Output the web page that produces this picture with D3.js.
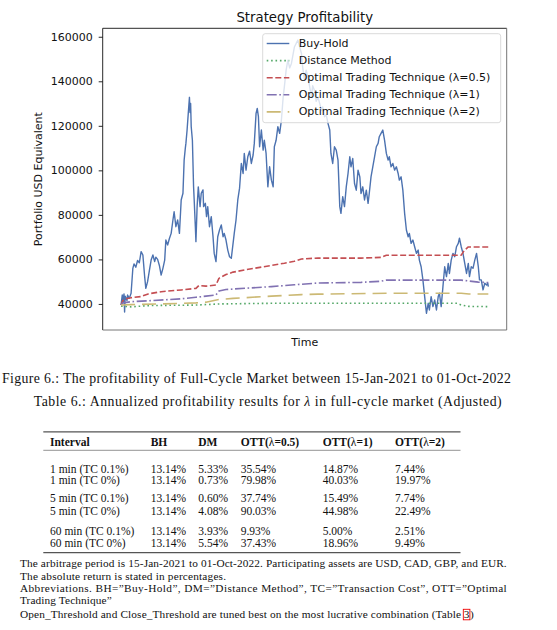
<!DOCTYPE html>
<html><head><meta charset="utf-8">
<script src="https://cdn.jsdelivr.net/npm/d3@7"></script>
<style>body{margin:0;background:#fff}svg{display:block}</style>
</head><body>
<svg id="c" width="557" height="630"></svg>
<script>
// ---- data (day index since 15-Jan-2021, portfolio USD value) ----
const buyHold = [[0,39500],[2,44000],[3,41000],[5,44500],[6,36400],[7,43500],[10,41500],[11,44000],[14,42500],[17,44800],[20,56000],[22,58000],[25,56500],[28,59500],[31,58500],[34,63500],[37,62000],[40,52300],[42,47000],[45,50000],[48,55000],[51,59700],[54,62000],[57,59000],[59,61000],[62,60000],[65,57300],[68,53000],[71,56000],[74,59700],[76,68700],[79,66500],[82,69400],[85,71700],[88,77700],[90,81400],[93,74700],[96,77700],[99,71700],[102,86700],[105,89700],[107,104600],[109,110000],[110,112100],[112,118100],[114,125600],[116,132800],[117,126000],[118,130000],[119,119600],[121,113500],[123,92600],[124,87000],[126,74700],[127,68000],[129,83700],[131,92600],[134,83700],[136,89700],[139,91200],[140,83700],[143,85200],[145,79200],[147,83700],[150,74700],[153,79200],[156,70200],[158,62700],[161,59000],[164,70200],[167,73200],[170,75500],[173,70200],[175,71700],[178,68700],[181,64200],[184,61200],[187,60500],[192,71700],[195,77700],[198,86700],[201,92000],[204,103100],[207,98600],[209,107600],[212,100100],[215,106100],[218,108600],[221,103100],[224,106900],[226,112100],[229,125600],[231,127800],[233,124100],[235,110600],[238,118100],[241,109100],[243,113500],[246,107600],[249,92600],[252,101600],[255,95600],[258,92600],[260,110600],[263,113500],[266,119600],[269,116600],[272,122600],[275,133000],[277,137500],[280,145000],[283,149500],[286,146000],[289,148000],[291,151000],[294,155400],[297,157000],[300,158500],[303,155400],[306,152500],[308,146500],[311,140500],[314,145000],[317,142000],[320,137500],[323,133000],[325,138000],[328,136000],[331,131000],[334,133000],[337,130000],[340,127000],[342,128500],[345,124100],[348,125000],[351,121100],[354,118100],[356,107600],[359,103100],[362,110600],[365,109100],[368,104600],[371,83700],[373,80700],[376,88200],[379,83700],[382,92600],[385,98600],[388,106100],[390,101600],[393,105300],[396,94100],[399,91100],[402,100100],[405,97100],[407,89600],[410,92600],[413,86700],[416,91100],[419,85200],[421,89600],[424,97100],[427,101600],[430,106100],[433,110600],[436,112100],[438,115100],[441,116600],[444,118100],[447,113500],[450,107600],[453,104600],[455,106100],[458,101600],[461,103100],[464,100100],[467,101600],[470,98600],[472,95600],[475,97100],[478,91100],[481,80700],[484,73200],[487,70200],[489,71700],[492,67200],[495,68700],[498,65700],[501,62700],[504,64200],[506,59700],[509,56700],[512,50800],[515,43300],[518,35800],[521,40300],[523,37300],[526,43300],[529,38800],[532,41800],[535,37300],[538,43300],[540,44800],[543,38800],[546,47800],[549,56700],[552,52300],[555,58200],[557,53700],[560,59700],[563,62700],[566,61200],[569,65700],[572,67200],[574,69500],[577,65700],[580,62700],[583,58200],[586,53700],[589,58200],[591,52300],[594,56700],[597,56000],[600,59700],[603,62700],[606,56700],[608,50800],[611,50800],[614,46300],[617,49300],[620,48500],[622,49300],[623,47800]];
const distanceMethod = [[0,39000],[17,38700],[50,39300],[127,39500],[166,40000],[255,40300],[570,40300],[577,39500],[590,38900],[623,38800]];
const ott05 = [[0,39500],[3,41500],[8,42300],[17,42800],[34,43300],[46,44500],[68,45500],[102,46300],[127,47000],[132,48300],[144,48000],[161,48500],[166,51500],[178,53200],[190,54300],[221,55800],[255,57300],[277,58300],[294,59200],[306,60200],[334,60600],[407,60600],[441,60900],[450,61900],[577,61900],[582,64000],[589,65600],[623,65600]];
const ott1 = [[0,39500],[3,40500],[17,41000],[50,41500],[102,42300],[127,43000],[144,43500],[161,44000],[166,45800],[178,46500],[221,47200],[255,47800],[294,48600],[334,49400],[407,49700],[441,50200],[450,50700],[577,50700],[590,50300],[606,49800],[623,49600]];
const ott2 = [[0,39500],[17,39700],[68,40000],[127,40500],[144,40800],[166,42000],[190,42500],[255,43500],[306,44200],[334,44400],[450,44800],[577,44800],[590,44500],[623,44500]];
const seriesNames = ["Buy-Hold","Distance Method","Optimal Trading Technique (λ=0.5)","Optimal Trading Technique (λ=1)","Optimal Trading Technique (λ=2)"];
const yTicks = [40000,60000,80000,100000,120000,140000,160000];

// ---- table data ----
const intervals = ["1 min (TC 0.1%)","1 min (TC 0%)","5 min (TC 0.1%)","5 min (TC 0%)","60 min (TC 0.1%)","60 min (TC 0%)"];
const colBH  = ["13.14%","13.14%","13.14%","13.14%","13.14%","13.14%"];
const colDM  = ["5.33%","0.73%","0.60%","4.08%","3.93%","5.54%"];
const colO05 = ["35.54%","79.98%","37.74%","90.03%","9.93%","37.43%"];
const colO1  = ["14.87%","40.03%","15.49%","44.98%","5.00%","18.96%"];
const colO2  = ["7.44%","19.97%","7.74%","22.49%","2.51%","9.49%"];

const svg = d3.select("#c");
svg.append("rect").attr("width",557).attr("height",630).attr("fill","#fff");

const L=102.7, R=506.7, T=28.3, B=330;
const span = 623;
const x = d3.scaleLinear().domain([-0.05*span, 1.05*span]).range([L,R]);
const y = d3.scaleLinear().domain([28300,163800]).range([B,T]);

const sans = "DejaVu Sans, Verdana, sans-serif";
const serif = "Liberation Serif, Times New Roman, serif";

svg.append("defs").append("clipPath").attr("id","clip")
  .append("rect").attr("x",L).attr("y",T).attr("width",R-L).attr("height",B-T);

const styles = [
  {data:buyHold, color:"#4C72B0", w:1.4, dash:null},
  {data:distanceMethod, color:"#55A868", w:1.6, dash:"1.6,2.8"},
  {data:ott05, color:"#C44E52", w:1.6, dash:"6,2.6"},
  {data:ott1, color:"#8172B2", w:1.6, dash:"10,2.6,1.6,2.6"},
  {data:ott2, color:"#CCB974", w:1.6, dash:"14,7"}
];
const line = d3.line().x(d=>x(d[0])).y(d=>y(d[1]));
const g = svg.append("g").attr("clip-path","url(#clip)");
styles.forEach(s=>{
  g.append("path").attr("d",line(s.data)).attr("fill","none")
   .attr("stroke",s.color).attr("stroke-width",s.w)
   .attr("stroke-dasharray",s.dash).attr("stroke-linejoin","round");
});

// axes frame
svg.append("line").attr("x1",L).attr("x2",R).attr("y1",T).attr("y2",T).attr("stroke","#111").attr("stroke-width",0.9);
svg.append("line").attr("x1",L).attr("x2",L).attr("y1",T).attr("y2",B).attr("stroke","#111").attr("stroke-width",0.9);
svg.append("line").attr("x1",R).attr("x2",R).attr("y1",T).attr("y2",B).attr("stroke","#666").attr("stroke-width",0.9);
svg.append("line").attr("x1",L).attr("x2",R).attr("y1",B).attr("y2",B).attr("stroke","#666").attr("stroke-width",0.9);

// y axis
const ax = svg.append("g").attr("transform",`translate(${L},0)`)
  .call(d3.axisLeft(y).tickValues(yTicks).tickFormat(d3.format("d")).tickSize(4).tickPadding(6));
ax.select(".domain").remove();
ax.selectAll("line").attr("stroke","#111").attr("stroke-width",0.9);
ax.selectAll("text").attr("font-family",sans).attr("font-size",11).attr("fill","#111");

// labels
svg.append("text").attr("x",(L+R)/2).attr("y",21.5).attr("text-anchor","middle")
  .attr("font-family",sans).attr("font-size",13.3).attr("fill","#111").text("Strategy Profitability");
svg.append("text").attr("x",(L+R)/2).attr("y",342.7).attr("text-anchor","middle").attr("dominant-baseline","central")
  .attr("font-family",sans).attr("font-size",11).attr("fill","#111").text("Time");
svg.append("text").attr("transform",`translate(38.7,${(T+B)/2}) rotate(-90)`).attr("text-anchor","middle")
  .attr("dominant-baseline","central").attr("font-family",sans).attr("font-size",11).attr("fill","#111")
  .text("Portfolio USD Equivalent");

// legend
const lg = svg.append("g");
lg.append("rect").attr("x",262.7).attr("y",33.7).attr("width",238).attr("height",89).attr("rx",2.5)
  .attr("fill","#fff").attr("fill-opacity",0.8).attr("stroke","#d6d6d6").attr("stroke-width",0.9);
seriesNames.forEach((n,i)=>{
  const yy = 43.5 + i*17.1;
  lg.append("line").attr("x1",266.7).attr("x2",289.3).attr("y1",yy).attr("y2",yy)
    .attr("stroke",styles[i].color).attr("stroke-width",styles[i].w).attr("stroke-dasharray",styles[i].dash);
  lg.append("text").attr("x",298.7).attr("y",yy).attr("dominant-baseline","central")
    .attr("font-family",sans).attr("font-size",11).attr("fill","#111").text(n);
});

// ---- caption / table / notes ----
function st(xp, yp, txt, size, len, opts={}){
  const t = svg.append("text").attr("x",xp).attr("y",yp).attr("font-family",serif)
    .attr("font-size",size).attr("fill","#111");
  if(len) t.attr("textLength",len).attr("lengthAdjust","spacing");
  if(opts.bold) t.attr("font-weight","bold");
  t.text(txt);
  return t;
}
st(2, 382.5, "Figure 6.: The profitability of Full-Cycle Market between 15-Jan-2021 to 01-Oct-2022", 13.8, 509);
const tc = svg.append("text").attr("x",33.7).attr("y",405.5).attr("font-family",serif).attr("font-size",13.8)
  .attr("fill","#111").attr("textLength",468).attr("lengthAdjust","spacing");
tc.append("tspan").text("Table 6.:  Annualized profitability results for ");
tc.append("tspan").attr("font-style","italic").text("λ");
tc.append("tspan").text(" in full-cycle market (Adjusted)");

svg.append("line").attr("x1",43.3).attr("x2",460.5).attr("y1",431.8).attr("y2",431.8).attr("stroke","#555").attr("stroke-width",1.3);
svg.append("line").attr("x1",43.3).attr("x2",460.5).attr("y1",450.3).attr("y2",450.3).attr("stroke","#777").attr("stroke-width",0.8);
svg.append("line").attr("x1",43.3).attr("x2",460.5).attr("y1",552.7).attr("y2",552.7).attr("stroke","#555").attr("stroke-width",1.3);

const colX = [50,150.7,198.3,240.7,322.7,395];
const headers = [["Interval"],["BH"],["DM"],["OTT(","λ","=0.5)"],["OTT(","λ","=1)"],["OTT(","λ","=2)"]];
headers.forEach((h,i)=>{
  const t = svg.append("text").attr("x",colX[i]).attr("y",445.5).attr("font-family",serif)
    .attr("font-size",11.5).attr("font-weight","bold").attr("fill","#111");
  h.forEach((p,j)=>{ const s=t.append("tspan").text(p); if(j===1) s.attr("font-weight","normal"); });
});
const rowY = [472.6,484.1,502.1,514.8,534.5,547.1];
const cols = [intervals,colBH,colDM,colO05,colO1,colO2];
rowY.forEach((yy,r)=>{
  cols.forEach((c,i)=> st(colX[i], yy, c[r], 11.5, null));
});

st(20, 567, "The arbitrage period is 15-Jan-2021 to 01-Oct-2022. Participating assets are USD, CAD, GBP, and EUR.", 11.3, 486.7);
st(20, 579.7, "The absolute return is stated in percentages.", 11.3, 206);
st(20, 591.7, "Abbreviations. BH=”Buy-Hold”, DM=”Distance Method”, TC=”Transaction Cost”, OTT=”Optimal", 11.3, 486.7);
st(20, 604.4, "Trading Technique”", 11.3, 91.7);
st(20, 617.7, "Open_Threshold and Close_Threshold are tuned best on the most lucrative combination (Table", 11.3, 441);
st(463.8, 617.7, "3", 11.3, null);
st(469.9, 617.7, ")", 11.3, null);
svg.append("rect").attr("x",463.3).attr("y",609.3).attr("width",6.6).attr("height",10.5)
  .attr("fill","none").attr("stroke","#e00").attr("stroke-width",0.9);
</script>
</body></html>
